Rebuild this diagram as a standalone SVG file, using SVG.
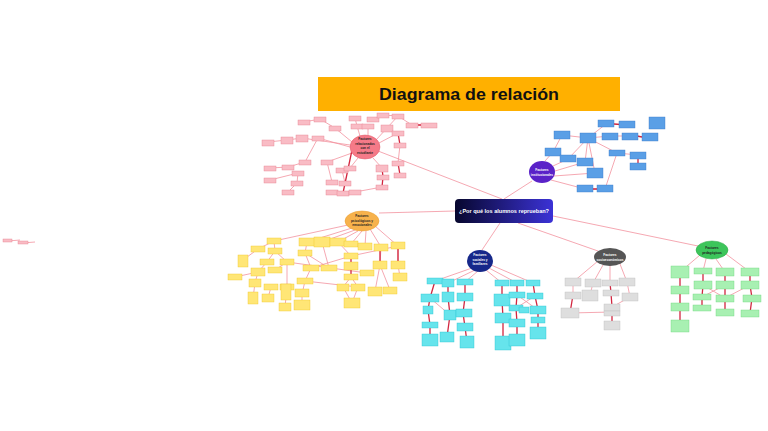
<svg xmlns="http://www.w3.org/2000/svg" width="768" height="431" viewBox="0 0 768 431">
<defs>
<linearGradient id="cg" x1="0" y1="0" x2="1" y2="0"><stop offset="0" stop-color="#07072e"/><stop offset="1" stop-color="#3b32d6"/></linearGradient>
<style>
.e{stroke:#f2929e;stroke-width:0.8;fill:none}
.r{stroke:#d2263f;stroke-width:1.3;fill:none}
.p{fill:#f9bcc5;stroke:#e77f8e;stroke-width:0.4}
.b{fill:#5a9fe6;stroke:#3b7bc9;stroke-width:0.4}
.y{fill:#ffe676;stroke:#efc52a;stroke-width:0.4}
.c{fill:#66e4ec;stroke:#2cc4d0;stroke-width:0.4}
.g{fill:#dedede;stroke:#bdbdbd;stroke-width:0.4}
.n{fill:#a8f0b2;stroke:#6ed67d;stroke-width:0.4}
.t{font-family:"Liberation Sans",Arial,sans-serif;font-weight:bold;text-anchor:middle}
.s{font-size:3.2px;fill:#fff}
.k{font-size:3.2px;fill:#222}
</style>
</defs>
<rect width="768" height="431" fill="#fff"/>
<g id="connectors">
<path class="e" d="M502 199 L378 151"/>
<path class="e" d="M504 199 L532 181"/>
<path class="e" d="M455 211 L379 213"/>
<path class="e" d="M500 223 L482 250"/>
<path class="e" d="M518 223 L598 251"/>
<path class="e" d="M553 216 L698 246"/>
<path class="e" d="M360 136 L357 126 M368 136 L368 126 M376 140 L387 128 M352 142 L335 128 M350 147 L318 138 M352 153 L327 162 M358 158 L350 168 M373 158 L382 168 M379 143 L398 133 M350 145 L302 138 M320 119 L335 128 M268 142 L287 140 L302 138 M305 162 L288 167 M298 173 L297 183 L288 192 M373 119 L383 115 L398 116 L412 125 L428 125 M357 126 L355 118 M305 162 L318 138 M327 162 L332 182 M342 170 L345 183 M332 192 L343 193 L355 192 M270 168 L288 167 M270 180 L298 173 M304 122 L320 119 M387 128 L398 116"/>
<path class="r" d="M382 168 L383 177 L382 187 M398 133 L400 145 M398 163 L400 175 M352 150 L343 193 M428 125 L412 125"/>
<path class="e" d="M400 145 L398 163 M355 192 L382 187"/>
<path class="e" d="M545 161 L553 152 M553 166 L568 159 M555 171 L585 162 M554 176 L595 173 M551 180 L585 189 M553 152 L562 135 L588 138 M568 159 L588 138 M588 138 L606 124 M588 138 L610 136 L630 136 L650 137 M588 138 L617 153 L638 155 M617 153 L605 189 M585 162 L588 138 M585 189 L605 189 M595 173 L588 138"/>
<path class="r" d="M614 124 L627 125 M638 155 L638 167 M637 136 L642 137 M592 189 L598 189"/>
<path class="e" d="M348 225 L274 241 M352 228 L307 242 M355 230 L322 242 M358 231 L338 242 M362 231 L351 244 M366 231 L365 246 M370 229 L381 247 M375 226 L398 246 M274 241 L258 249 M274 241 L275 251 M275 251 L267 262 M258 249 L243 260 M275 251 L287 262 M307 242 L305 253 L311 268 M322 242 L329 268 M305 253 L329 268 M338 242 L351 256 M351 256 L311 268 M381 247 L380 265 M398 246 L398 265 M267 262 L258 272 L255 283 M287 262 L275 270 M287 262 L287 287 M311 268 L305 281 M235 277 L258 272 M351 277 L343 287 M351 277 L358 287 M380 265 L375 291 M380 265 L390 290 M255 283 L253 298 M271 287 L268 298 M305 281 L302 294 L302 305 M343 287 L352 303 M358 287 L352 303 M287 287 L285 307 M305 281 L358 287 M398 265 L400 277 M287 262 L367 273 M351 256 L398 246"/>
<path class="r" d="M351 256 L351 266 L351 277 M398 246 L398 265 M380 247 L380 265"/>
<path class="e" d="M472 268 L435 281 M475 270 L448 283 M478 271 L465 282 M486 270 L502 283 M489 268 L517 283 M491 265 L533 283 M430 298 L450 315"/>
<path class="r" d="M435 281 L430 298 L428 310 L430 325 L430 340 M448 283 L448 297 L450 315 L447 337 M465 282 L465 297 L463 313 L465 327 L467 342 M502 283 L502 300 L503 318 L503 342 M517 283 L517 295 L516 308 L517 323 L517 340 M533 283 L535 296 L538 310 L538 320 L538 333"/>
<path class="e" d="M517 295 L538 310 M535 296 L516 308"/>
<path class="e" d="M598 261 L573 282 M603 265 L593 283 M610 266 L610 283 M620 264 L627 282 M593 283 L590 295 M627 282 L630 297 L612 307 M570 313 L612 312 M573 282 L573 295"/>
<path class="r" d="M573 295 L570 313 M610 283 L611 293 L612 307 L612 325"/>
<path class="e" d="M700 255 L680 272 M706 259 L703 271 M716 259 L725 272 M726 254 L750 272 M703 285 L725 298 M750 285 L725 298 M725 285 L702 297"/>
<path class="r" d="M680 272 L680 290 L680 307 L680 325 M703 271 L703 285 L702 297 L702 308 M725 272 L725 285 L725 298 L725 312 M750 272 L750 285 L752 298 L750 313"/>
<path class="e" d="M8 241 L20 240 M22 243 L35 242"/>
</g>
<g id="title">
<rect x="318" y="77" width="302" height="34" fill="#ffb000"/>
<text class="t" x="469" y="100" font-size="17" font-weight="900" fill="#111" textLength="180" lengthAdjust="spacingAndGlyphs">Diagrama de relación</text>
</g>
<g id="center">
<rect x="455" y="199" width="98" height="24" rx="4" fill="url(#cg)"/>
<text class="t" x="504" y="213" font-size="6" fill="#fff" textLength="90" lengthAdjust="spacingAndGlyphs">¿Por qué los alumnos reprueban?</text>
</g>
<g id="cat-estudiante">
<ellipse cx="365" cy="147" rx="15" ry="12" fill="#f57a88" stroke="#e05a6a" stroke-width="0.5"/>
<text class="t k" x="365" y="140">Factores</text><text class="t k" x="365" y="144.5">relacionados</text><text class="t k" x="365" y="149">con el</text><text class="t k" x="365" y="153.5">estudiante</text>
</g>
<g id="cat-institucionales">
<ellipse cx="542" cy="172" rx="13" ry="11" fill="#5a22c8"/>
<text class="t s" x="542" y="171">Factores</text><text class="t s" x="542" y="175.5">institucionales</text>
</g>
<g id="cat-emocionales">
<ellipse cx="362" cy="221" rx="17" ry="10" fill="#f7b24c" stroke="#e89a2a" stroke-width="0.5"/>
<text class="t k" x="362" y="217">Factores</text><text class="t k" x="362" y="221.5">psicológicos y</text><text class="t k" x="362" y="226">emocionales</text>
</g>
<g id="cat-familiares">
<ellipse cx="480" cy="261" rx="13" ry="11" fill="#16288a"/>
<text class="t s" x="480" y="256">Factores</text><text class="t s" x="480" y="260.5">sociales y</text><text class="t s" x="480" y="265">familiares</text>
</g>
<g id="cat-socioeconomicos">
<ellipse cx="610" cy="257" rx="16" ry="9" fill="#555"/>
<text class="t s" x="610" y="256">Factores</text><text class="t s" x="610" y="260.5">socioeconómicos</text>
</g>
<g id="cat-pedagogicos">
<ellipse cx="712" cy="250" rx="16" ry="9" fill="#3dc55b" stroke="#2aa845" stroke-width="0.5"/>
<text class="t k" x="712" y="249">Factores</text><text class="t k" x="712" y="253.5">pedagógicos</text>
</g>
<g id="nodes-pink">
<rect id="p1" class="p" x="314" y="117" width="12" height="5"/>
<rect id="p2" class="p" x="349" y="116" width="12" height="5"/>
<rect id="p3" class="p" x="367" y="117" width="12" height="5"/>
<rect id="p4" class="p" x="377" y="113" width="12" height="5"/>
<rect id="p5" class="p" x="392" y="114" width="12" height="5"/>
<rect id="p6" class="p" x="298" y="120" width="12" height="5"/>
<rect id="p7" class="p" x="329" y="126" width="12" height="5"/>
<rect id="p8" class="p" x="351" y="124" width="12" height="5"/>
<rect id="p9" class="p" x="362" y="124" width="12" height="5"/>
<rect id="p10" class="p" x="381" y="125" width="12" height="7"/>
<rect id="p11" class="p" x="406" y="123" width="12" height="5"/>
<rect id="p12" class="p" x="421" y="123" width="16" height="5"/>
<rect id="p13" class="p" x="262" y="140" width="12" height="6"/>
<rect id="p14" class="p" x="281" y="137" width="12" height="7"/>
<rect id="p15" class="p" x="296" y="135" width="12" height="7"/>
<rect id="p16" class="p" x="312" y="136" width="12" height="5"/>
<rect id="p17" class="p" x="392" y="131" width="12" height="5"/>
<rect id="p18" class="p" x="394" y="143" width="12" height="5"/>
<rect id="p19" class="p" x="299" y="160" width="12" height="5"/>
<rect id="p20" class="p" x="264" y="166" width="12" height="5"/>
<rect id="p21" class="p" x="282" y="165" width="12" height="5"/>
<rect id="p22" class="p" x="292" y="171" width="12" height="5"/>
<rect id="p23" class="p" x="264" y="178" width="12" height="5"/>
<rect id="p24" class="p" x="291" y="181" width="12" height="5"/>
<rect id="p25" class="p" x="321" y="160" width="12" height="5"/>
<rect id="p26" class="p" x="336" y="168" width="12" height="5"/>
<rect id="p27" class="p" x="344" y="166" width="12" height="5"/>
<rect id="p28" class="p" x="376" y="165" width="12" height="7"/>
<rect id="p29" class="p" x="377" y="175" width="12" height="5"/>
<rect id="p30" class="p" x="392" y="161" width="12" height="5"/>
<rect id="p31" class="p" x="394" y="173" width="12" height="5"/>
<rect id="p32" class="p" x="326" y="180" width="12" height="5"/>
<rect id="p33" class="p" x="339" y="181" width="12" height="5"/>
<rect id="p34" class="p" x="376" y="185" width="12" height="5"/>
<rect id="p35" class="p" x="282" y="190" width="12" height="5"/>
<rect id="p36" class="p" x="326" y="190" width="12" height="5"/>
<rect id="p37" class="p" x="337" y="191" width="12" height="5"/>
<rect id="p38" class="p" x="349" y="190" width="12" height="5"/>
<rect id="p39" class="p" x="3" y="239" width="9" height="3"/>
<rect id="p40" class="p" x="18" y="241" width="10" height="3"/>
</g>
<g id="nodes-blue">
<rect id="b1" class="b" x="598" y="120" width="16" height="7"/>
<rect id="b2" class="b" x="619" y="121" width="16" height="7"/>
<rect id="b3" class="b" x="649" y="117" width="16" height="12"/>
<rect id="b4" class="b" x="554" y="131" width="16" height="8"/>
<rect id="b5" class="b" x="580" y="133" width="16" height="10"/>
<rect id="b6" class="b" x="602" y="133" width="16" height="7"/>
<rect id="b7" class="b" x="622" y="133" width="16" height="7"/>
<rect id="b8" class="b" x="642" y="133" width="16" height="8"/>
<rect id="b9" class="b" x="545" y="148" width="16" height="8"/>
<rect id="b10" class="b" x="560" y="155" width="16" height="7"/>
<rect id="b11" class="b" x="577" y="158" width="16" height="8"/>
<rect id="b12" class="b" x="609" y="150" width="16" height="6"/>
<rect id="b13" class="b" x="630" y="152" width="16" height="7"/>
<rect id="b14" class="b" x="630" y="163" width="16" height="7"/>
<rect id="b15" class="b" x="587" y="168" width="16" height="10"/>
<rect id="b16" class="b" x="577" y="185" width="16" height="7"/>
<rect id="b17" class="b" x="597" y="185" width="16" height="7"/>
</g>
<g id="nodes-yellow">
<rect id="y1" class="y" x="267" y="238" width="14" height="6"/>
<rect id="y2" class="y" x="299" y="238" width="16" height="8"/>
<rect id="y3" class="y" x="314" y="237" width="16" height="10"/>
<rect id="y4" class="y" x="330" y="238" width="16" height="8"/>
<rect id="y5" class="y" x="344" y="241" width="14" height="6"/>
<rect id="y6" class="y" x="358" y="243" width="14" height="7"/>
<rect id="y7" class="y" x="374" y="244" width="14" height="7"/>
<rect id="y8" class="y" x="391" y="242" width="14" height="7"/>
<rect id="y9" class="y" x="251" y="246" width="14" height="6"/>
<rect id="y10" class="y" x="268" y="248" width="14" height="6"/>
<rect id="y11" class="y" x="298" y="250" width="14" height="6"/>
<rect id="y12" class="y" x="344" y="253" width="14" height="6"/>
<rect id="y13" class="y" x="238" y="255" width="10" height="12"/>
<rect id="y14" class="y" x="260" y="259" width="14" height="6"/>
<rect id="y15" class="y" x="280" y="259" width="14" height="6"/>
<rect id="y16" class="y" x="303" y="265" width="16" height="6"/>
<rect id="y17" class="y" x="321" y="265" width="16" height="6"/>
<rect id="y18" class="y" x="344" y="262" width="14" height="8"/>
<rect id="y19" class="y" x="373" y="261" width="14" height="8"/>
<rect id="y20" class="y" x="391" y="261" width="14" height="8"/>
<rect id="y21" class="y" x="251" y="268" width="14" height="8"/>
<rect id="y22" class="y" x="268" y="267" width="14" height="6"/>
<rect id="y23" class="y" x="228" y="274" width="14" height="6"/>
<rect id="y24" class="y" x="344" y="274" width="14" height="6"/>
<rect id="y25" class="y" x="360" y="270" width="14" height="6"/>
<rect id="y26" class="y" x="393" y="273" width="14" height="8"/>
<rect id="y27" class="y" x="249" y="279" width="12" height="8"/>
<rect id="y28" class="y" x="264" y="284" width="14" height="6"/>
<rect id="y29" class="y" x="280" y="284" width="14" height="6"/>
<rect id="y30" class="y" x="297" y="278" width="16" height="6"/>
<rect id="y31" class="y" x="337" y="284" width="12" height="7"/>
<rect id="y32" class="y" x="351" y="284" width="14" height="7"/>
<rect id="y33" class="y" x="368" y="287" width="14" height="9"/>
<rect id="y34" class="y" x="383" y="287" width="14" height="7"/>
<rect id="y35" class="y" x="248" y="292" width="10" height="12"/>
<rect id="y36" class="y" x="262" y="294" width="12" height="8"/>
<rect id="y37" class="y" x="281" y="284" width="10" height="16"/>
<rect id="y38" class="y" x="295" y="289" width="14" height="8"/>
<rect id="y39" class="y" x="279" y="303" width="12" height="8"/>
<rect id="y40" class="y" x="294" y="300" width="16" height="10"/>
<rect id="y41" class="y" x="344" y="298" width="16" height="10"/>
</g>
<g id="nodes-cyan">
<rect id="c1" class="c" x="427" y="278" width="16" height="6"/>
<rect id="c2" class="c" x="442" y="279" width="12" height="8"/>
<rect id="c3" class="c" x="457" y="279" width="16" height="6"/>
<rect id="c4" class="c" x="495" y="280" width="14" height="6"/>
<rect id="c5" class="c" x="510" y="280" width="14" height="6"/>
<rect id="c6" class="c" x="526" y="280" width="14" height="6"/>
<rect id="c7" class="c" x="421" y="294" width="18" height="8"/>
<rect id="c8" class="c" x="442" y="292" width="12" height="10"/>
<rect id="c9" class="c" x="457" y="293" width="16" height="8"/>
<rect id="c10" class="c" x="494" y="294" width="16" height="12"/>
<rect id="c11" class="c" x="509" y="292" width="16" height="6"/>
<rect id="c12" class="c" x="527" y="293" width="16" height="6"/>
<rect id="c13" class="c" x="423" y="306" width="10" height="8"/>
<rect id="c14" class="c" x="444" y="310" width="12" height="10"/>
<rect id="c15" class="c" x="456" y="309" width="16" height="8"/>
<rect id="c16" class="c" x="495" y="313" width="16" height="10"/>
<rect id="c17" class="c" x="509" y="305" width="14" height="6"/>
<rect id="c18" class="c" x="519" y="307" width="10" height="6"/>
<rect id="c19" class="c" x="530" y="306" width="16" height="8"/>
<rect id="c20" class="c" x="422" y="322" width="16" height="6"/>
<rect id="c21" class="c" x="457" y="323" width="16" height="8"/>
<rect id="c22" class="c" x="509" y="319" width="16" height="8"/>
<rect id="c23" class="c" x="531" y="317" width="14" height="6"/>
<rect id="c24" class="c" x="422" y="334" width="16" height="12"/>
<rect id="c25" class="c" x="440" y="332" width="14" height="10"/>
<rect id="c26" class="c" x="460" y="336" width="14" height="12"/>
<rect id="c27" class="c" x="495" y="336" width="16" height="14"/>
<rect id="c28" class="c" x="509" y="334" width="16" height="12"/>
<rect id="c29" class="c" x="530" y="327" width="16" height="12"/>
</g>
<g id="nodes-gray">
<rect id="g1" class="g" x="565" y="278" width="16" height="8"/>
<rect id="g2" class="g" x="585" y="279" width="16" height="8"/>
<rect id="g3" class="g" x="602" y="280" width="16" height="6"/>
<rect id="g4" class="g" x="619" y="278" width="16" height="8"/>
<rect id="g5" class="g" x="565" y="292" width="16" height="7"/>
<rect id="g6" class="g" x="582" y="290" width="16" height="11"/>
<rect id="g7" class="g" x="603" y="290" width="16" height="6"/>
<rect id="g8" class="g" x="622" y="293" width="16" height="8"/>
<rect id="g9" class="g" x="604" y="304" width="16" height="7"/>
<rect id="g10" class="g" x="561" y="308" width="18" height="10"/>
<rect id="g11" class="g" x="604" y="311" width="16" height="5"/>
<rect id="g12" class="g" x="604" y="321" width="16" height="9"/>
</g>
<g id="nodes-green">
<rect id="n1" class="n" x="671" y="266" width="18" height="12"/>
<rect id="n2" class="n" x="694" y="268" width="18" height="6"/>
<rect id="n3" class="n" x="716" y="268" width="18" height="8"/>
<rect id="n4" class="n" x="741" y="268" width="18" height="8"/>
<rect id="n5" class="n" x="671" y="286" width="18" height="8"/>
<rect id="n6" class="n" x="694" y="281" width="18" height="8"/>
<rect id="n7" class="n" x="716" y="281" width="18" height="8"/>
<rect id="n8" class="n" x="741" y="281" width="18" height="8"/>
<rect id="n9" class="n" x="693" y="294" width="18" height="6"/>
<rect id="n10" class="n" x="716" y="295" width="18" height="7"/>
<rect id="n11" class="n" x="743" y="295" width="18" height="7"/>
<rect id="n12" class="n" x="671" y="303" width="18" height="8"/>
<rect id="n13" class="n" x="693" y="305" width="18" height="6"/>
<rect id="n14" class="n" x="716" y="309" width="18" height="7"/>
<rect id="n15" class="n" x="741" y="310" width="18" height="7"/>
<rect id="n16" class="n" x="671" y="320" width="18" height="12"/>
</g>
</svg>
